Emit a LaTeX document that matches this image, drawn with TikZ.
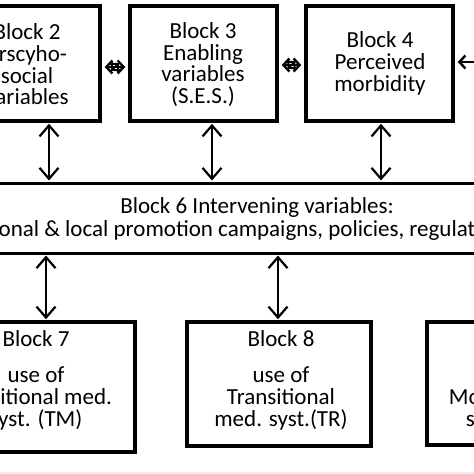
\documentclass[tikz,border=0pt]{standalone}
\usepackage{fontspec}
\setmainfont{Carlito}
\usetikzlibrary{arrows.meta,decorations.markings}
\begin{document}
\begin{tikzpicture}[x=1pt,y=-1pt,
  blockbox/.style={draw, line width=3.5pt, inner sep=0pt},
  blocktext/.style={align=center, inner sep=0pt, font=\fontsize{23}{21.7}\selectfont},
  vlink/.style={line width=2.2pt, {Straight Barb[length=11pt,width=19pt]}-{Straight Barb[length=11pt,width=19pt]}},
  hlink/.style={line width=2.4pt, {Straight Barb[length=6pt,width=13pt]}-{Straight Barb[length=6pt,width=13pt]},
    postaction={decorate}, decoration={markings, mark=at position 0.5 with {\draw[line width=2pt] (-6pt,-6pt) -- (6pt,6pt);}}}]
\useasboundingbox (0,0) rectangle (474,474);
\clip (0,0) rectangle (474,474);
\fill[white] (0,0) rectangle (474,474);
\fill[black!7] (0,471.5) rectangle (474,474);
% top row
\node[blockbox, minimum width=145pt, minimum height=115pt] (b2) at (27.5,63.5) {};
\node[blockbox, minimum width=147pt, minimum height=115pt] (b3) at (203.5,63.5) {};
\node[blockbox, minimum width=147pt, minimum height=115pt] (b4) at (379.5,63.5) {};
\node[blocktext] (t2) at (27,64.5) {Block 2\\Prscyho-\\social\\variables};
\node[blocktext] (t3) at (203,64.5) {Block 3\\Enabling\\variables\\(S.E.S.)};
\node[blocktext] (t4) at (380,63.5) {Block 4\\Perceived\\morbidity};
% block 6
\node[blockbox, line width=3pt, minimum width=700pt, minimum height=70pt] (b6) at (250,218) {};
\node[blocktext] (t6a) at (257,207) {Block 6 Intervening variables:};
\node[blocktext, anchor=west] (t6b) at (-40,230) {National \& local promotion campaigns, policies, regulations};
% bottom row
\node[blockbox, minimum width=198pt, minimum height=130pt] (b7) at (36,387) {};
\node[blockbox, minimum width=184pt, minimum height=124pt] (b8) at (279,384) {};
\node[blockbox, minimum width=172pt, minimum height=123pt] (b9) at (513,383.5) {};
\node[blocktext] (t7) at (36,380) {Block 7\\[15pt]use of\\Traditional med.\\syst. (TM)};
\node[blocktext] (t8) at (281,380) {Block 8\\[15pt]use of\\Transitional\\med. syst.(TR)};
\node[blocktext] (t9) at (513,380) {Block 9\\[15pt]use of\\Modern med.\\syst.(MM)};
\coordinate (b5w) at (520,62);
% vertical links
\draw[vlink, shorten <=1pt, shorten >=1pt] (b2.south -| 49,0) -- (b6.north -| 49,0);
\draw[vlink, shorten <=1pt, shorten >=1pt] (b3.south -| 212,0) -- (b6.north -| 212,0);
\draw[vlink, shorten <=1pt, shorten >=1pt] (b4.south -| 381,0) -- (b6.north -| 381,0);
\draw[vlink, shorten <=1pt, shorten >=1pt] (b6.south -| 46,0) -- (b7.north -| 46,0);
\draw[vlink, shorten <=1pt, shorten >=1pt] (b6.south -| 278,0) -- (b8.north -| 278,0);
% horizontal crossed links
\draw[hlink, shorten <=3pt, shorten >=3pt] (b2.east |- 0,67) -- (b3.west |- 0,67);
\draw[hlink, shorten <=3pt, shorten >=3pt] (b3.east |- 0,65) -- (b4.west |- 0,65);
\draw[hlink, shorten <=3pt, shorten >=3pt] (b4.east |- 0,62) -- (b5w);
\end{tikzpicture}
\end{document}
